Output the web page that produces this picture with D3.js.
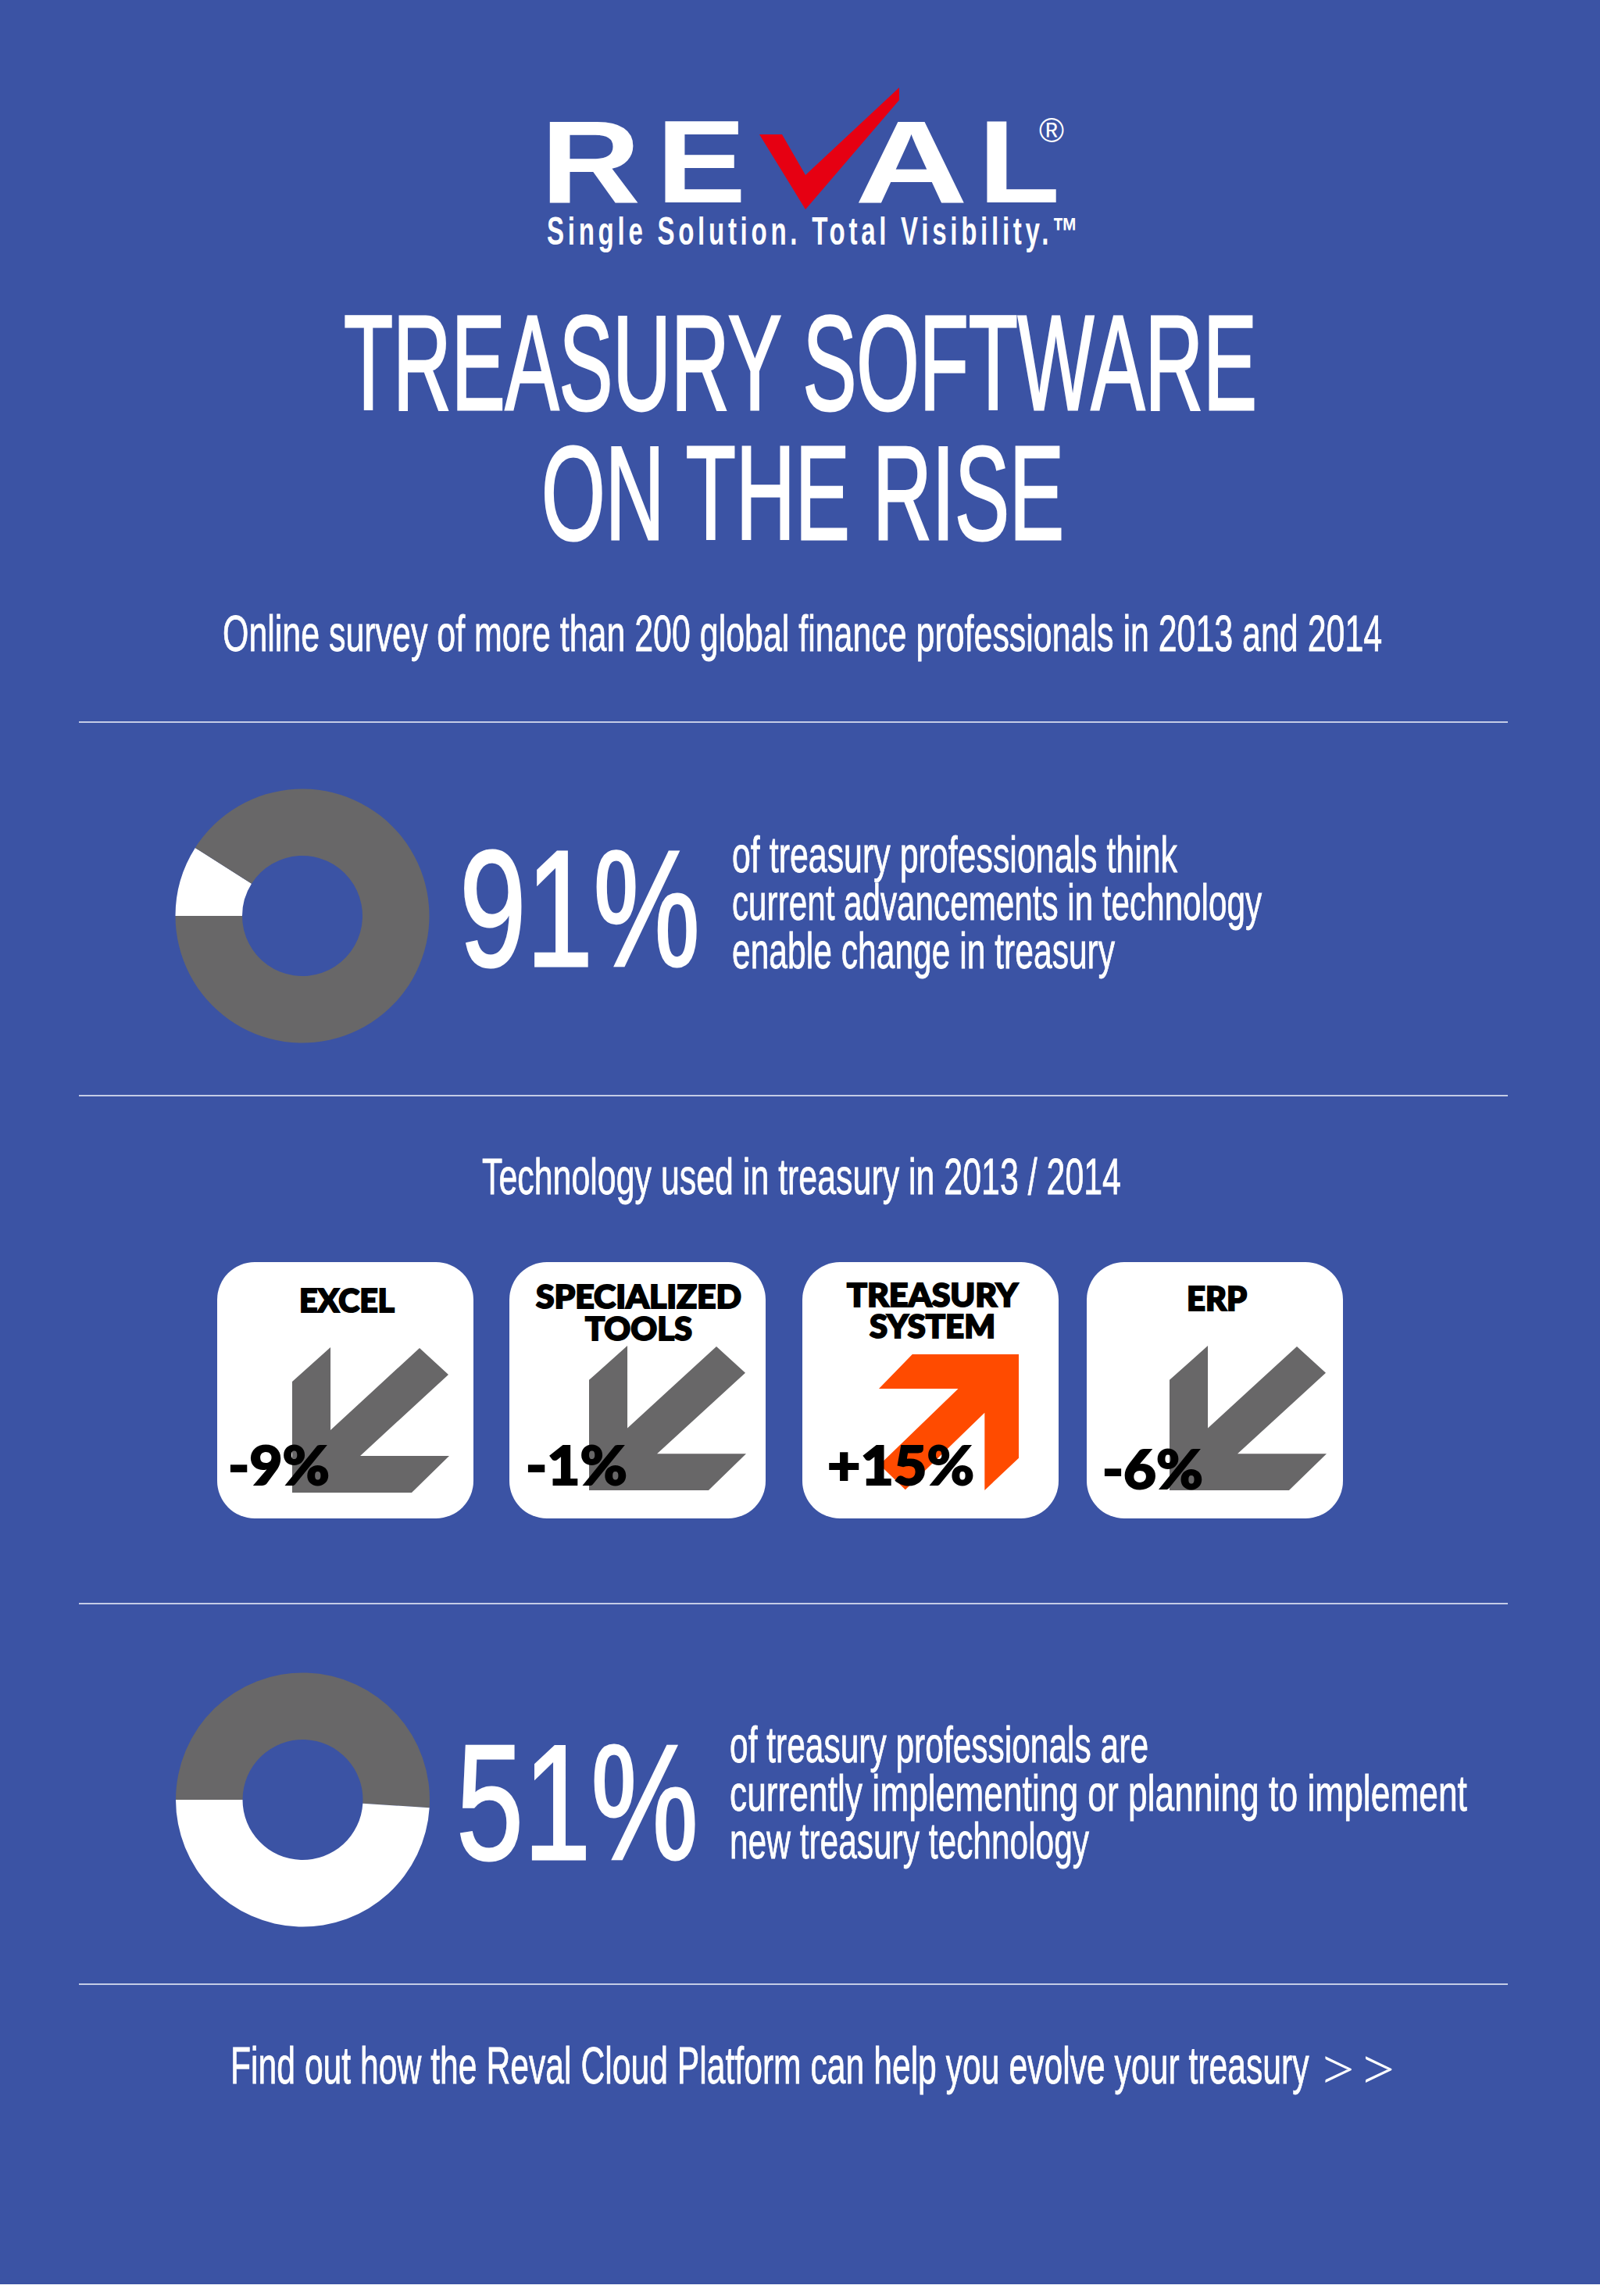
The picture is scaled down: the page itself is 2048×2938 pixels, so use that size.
<!DOCTYPE html>
<html>
<head>
<meta charset="utf-8">
<script src="https://cdnjs.cloudflare.com/ajax/libs/d3/7.8.5/d3.min.js"></script>
<style>
  html, body { margin: 0; padding: 0; background: #fff; }
  svg { display: block; }
</style>
</head>
<body>
<svg id="chart" width="2048" height="2938"></svg>
<script>
// values
const techSliceNames = ["Others", "Think technology enables change"];
const techSliceValues = [9, 91];
const planSliceNames = ["Implementing or planning", "Others"];
const planSliceValues = [51, 49];

const cardNames = ["Excel", "Specialized tools", "Treasury system", "ERP"];
const cardTitles = [["EXCEL"], ["SPECIALIZED", "TOOLS"], ["TREASURY", "SYSTEM"], ["ERP"]];
const cardChanges = [-9, -1, 15, -6];
const cardChangeLabels = ["-9%", "-1%", "+15%", "-6%"];

const logoLetters = ["R", "E", "A", "L"];
const logoTagline = "Single Solution. Total Visibility.\u2122";
const titleLines = ["TREASURY SOFTWARE", "ON THE RISE"];
const subtitle = "Online survey of more than 200 global finance professionals in 2013 and 2014";
const techBigLabel = "91%";
const techLines = ["of treasury professionals think", "current advancements in technology", "enable change in treasury"];
const cardsHeading = "Technology used in treasury in 2013 / 2014";
const planBigLabel = "51%";
const planLines = ["of treasury professionals are", "currently implementing or planning to implement", "new treasury technology"];
const ctaText = "Find out how the Reval Cloud Platform can help you evolve your treasury";

// colours
const blue = "#3b53a4";
const gray = "#686768";
const orange = "#ff4b00";
const red = "#e60012";

const svg = d3.select("#chart");
const width = 2048;

svg.append("rect").attr("width", width).attr("height", 2923).attr("fill", blue);

const condensed = "'Liberation Sans Narrow','Liberation Sans',sans-serif";
const capRatio = 0.688;

// put a text between x0 and x1, sitting on baseline, with the given cap height
function fit(parent, str, x0, x1, baseline, capHeight, o) {
    o = o || {};
    const t = parent.append("text")
        .attr("font-family", o.family || condensed)
        .attr("font-weight", o.weight || 400)
        .attr("font-size", capHeight / (o.ratio || capRatio))
        .attr("letter-spacing", o.spacing || 0)
        .attr("fill", o.fill || "#fff")
        .attr("stroke", o.stroke || "#fff")
        .attr("stroke-width", o.strokeWidth || 0)
        .text(str);
    const sx = (x1 - x0) / t.node().getComputedTextLength();
    t.attr("transform", "translate(" + x0 + "," + baseline + ") scale(" + sx + ",1)");
    return t;
}

// logo
const logo = svg.append("g");
const logoSpans = [[692, 820], [840, 955], [1094, 1239], [1252, 1357]];
logoLetters.forEach(function(l, i) {
    fit(logo, l, logoSpans[i][0], logoSpans[i][1], 259, 104, {family: "'Liberation Sans',sans-serif", weight: 700});
});
const checkMark = [[972, 172], [1001, 172], [1031, 224], [1151, 112], [1151, 128], [1031, 268]];
logo.append("path")
    .attr("d", d3.line()(checkMark) + "Z")
    .attr("fill", red);
fit(logo, "\u00ae", 1330, 1362, 182, 30, {family: "'Liberation Sans',sans-serif"});
fit(logo, logoTagline, 700, 1385, 313, 34, {weight: 700, spacing: 7});

// headings
fit(svg, titleLines[0], 440, 1609, 524, 119, {strokeWidth: 3});
fit(svg, titleLines[1], 693, 1362, 690, 118, {strokeWidth: 3});
fit(svg, subtitle, 285, 1769, 833, 45, {strokeWidth: 0.8});

// section rules
const ruleY = [924, 1402, 2052, 2539];
svg.selectAll(".rule")
    .data(ruleY)
    .enter()
    .append("line")
    .attr("class", "rule")
    .attr("x1", 101)
    .attr("x2", 1930)
    .attr("y1", function(d) { return d; })
    .attr("y2", function(d) { return d; })
    .attr("stroke", "#c4cce6")
    .attr("stroke-width", 2);

// donuts
const pie = d3.pie().sort(null).startAngle(-Math.PI / 2).endAngle(Math.PI * 1.5);
const arc = d3.arc().innerRadius(77).outerRadius(162.5);

function donut(cx, cy, names, values, colors) {
    const color = d3.scaleOrdinal().domain(names).range(colors);
    svg.append("g")
        .attr("transform", "translate(" + cx + "," + cy + ")")
        .selectAll("path")
        .data(pie(values))
        .enter()
        .append("path")
        .attr("d", arc)
        .attr("fill", function(d, i) { return color(names[i]); });
}
donut(387, 1172, techSliceNames, techSliceValues, ["#fff", gray]);
donut(387.5, 2303, planSliceNames, planSliceValues, [gray, "#fff"]);

fit(svg, techBigLabel, 588, 896, 1236, 146, {strokeWidth: 3});
fit(svg, planBigLabel, 584, 894, 2379, 144, {strokeWidth: 3});

const techBase = [1116, 1177, 1239];
const techRight = [1507, 1615, 1427];
techLines.forEach(function(t, i) {
    fit(svg, t, 937, techRight[i], techBase[i], 44, {strokeWidth: 0.8});
});
const planBase = [2255, 2317, 2378];
const planRight = [1470, 1878, 1394];
planLines.forEach(function(t, i) {
    fit(svg, t, 934, planRight[i], planBase[i], 44, {strokeWidth: 0.8});
});

fit(svg, cardsHeading, 617, 1435, 1528, 45, {strokeWidth: 0.8});

// cards
const cardX = d3.scaleOrdinal().domain(cardNames).range([278, 652, 1027, 1391]);
const cardW = d3.scaleOrdinal().domain(cardNames).range([328, 328, 328, 328]);

// arrow outline in a unit box, pointing down and left
const arrowOutline = [[0.244, 0], [0, 0.237], [0, 1], [0.761, 1], [1, 0.747], [0.433, 0.747], [0.995, 0.188], [0.811, 0.005], [0.244, 0.57]];
const arrowBoxes = [[374, 575, 1724, 1910], [754, 955, 1722, 1907], [1125, 1304, 1733, 1907], [1497, 1698, 1722, 1907]];

const titleSpans = [
    [[383, 505, 1679]],
    [[686, 949, 1674], [749, 886, 1715]],
    [[1084, 1303, 1672], [1113, 1274, 1712]],
    [[1519, 1596, 1677]]
];
const changeSpans = [[292, 422, 1900], [673, 803, 1900], [1059, 1247, 1900], [1411, 1540, 1905]];
const heavy = {family: "Lato,'Liberation Sans',sans-serif", weight: 900, fill: "#000", ratio: 0.72, stroke: "#000", strokeWidth: 2};

cardNames.forEach(function(name, i) {
    const g = svg.append("g");
    g.append("rect")
        .attr("x", cardX(name))
        .attr("y", 1615)
        .attr("width", cardW(name))
        .attr("height", 328)
        .attr("rx", 48)
        .attr("fill", "#fff");

    const box = arrowBoxes[i];
    const up = cardChanges[i] > 0;
    const ax = d3.scaleLinear().domain([0, 1]).range(up ? [box[1], box[0]] : [box[0], box[1]]);
    const ay = d3.scaleLinear().domain([0, 1]).range(up ? [box[3], box[2]] : [box[2], box[3]]);
    g.append("path")
        .attr("d", d3.line().x(function(d) { return ax(d[0]); }).y(function(d) { return ay(d[1]); })(arrowOutline) + "Z")
        .attr("fill", up ? orange : gray);

    cardTitles[i].forEach(function(t, j) {
        const s = titleSpans[i][j];
        fit(g, t, s[0], s[1], s[2], 30, heavy);
    });
    const c = changeSpans[i];
    fit(g, cardChangeLabels[i], c[0], c[1], c[2], 50, heavy);
});

// call to action
fit(svg, ctaText, 295, 1676, 2666, 46, {strokeWidth: 0.8});
fit(svg, ">>", 1686, 1789, 2676, 60, {family: "Lato,sans-serif", ratio: 0.72, weight: 300});
</script>
</body>
</html>
